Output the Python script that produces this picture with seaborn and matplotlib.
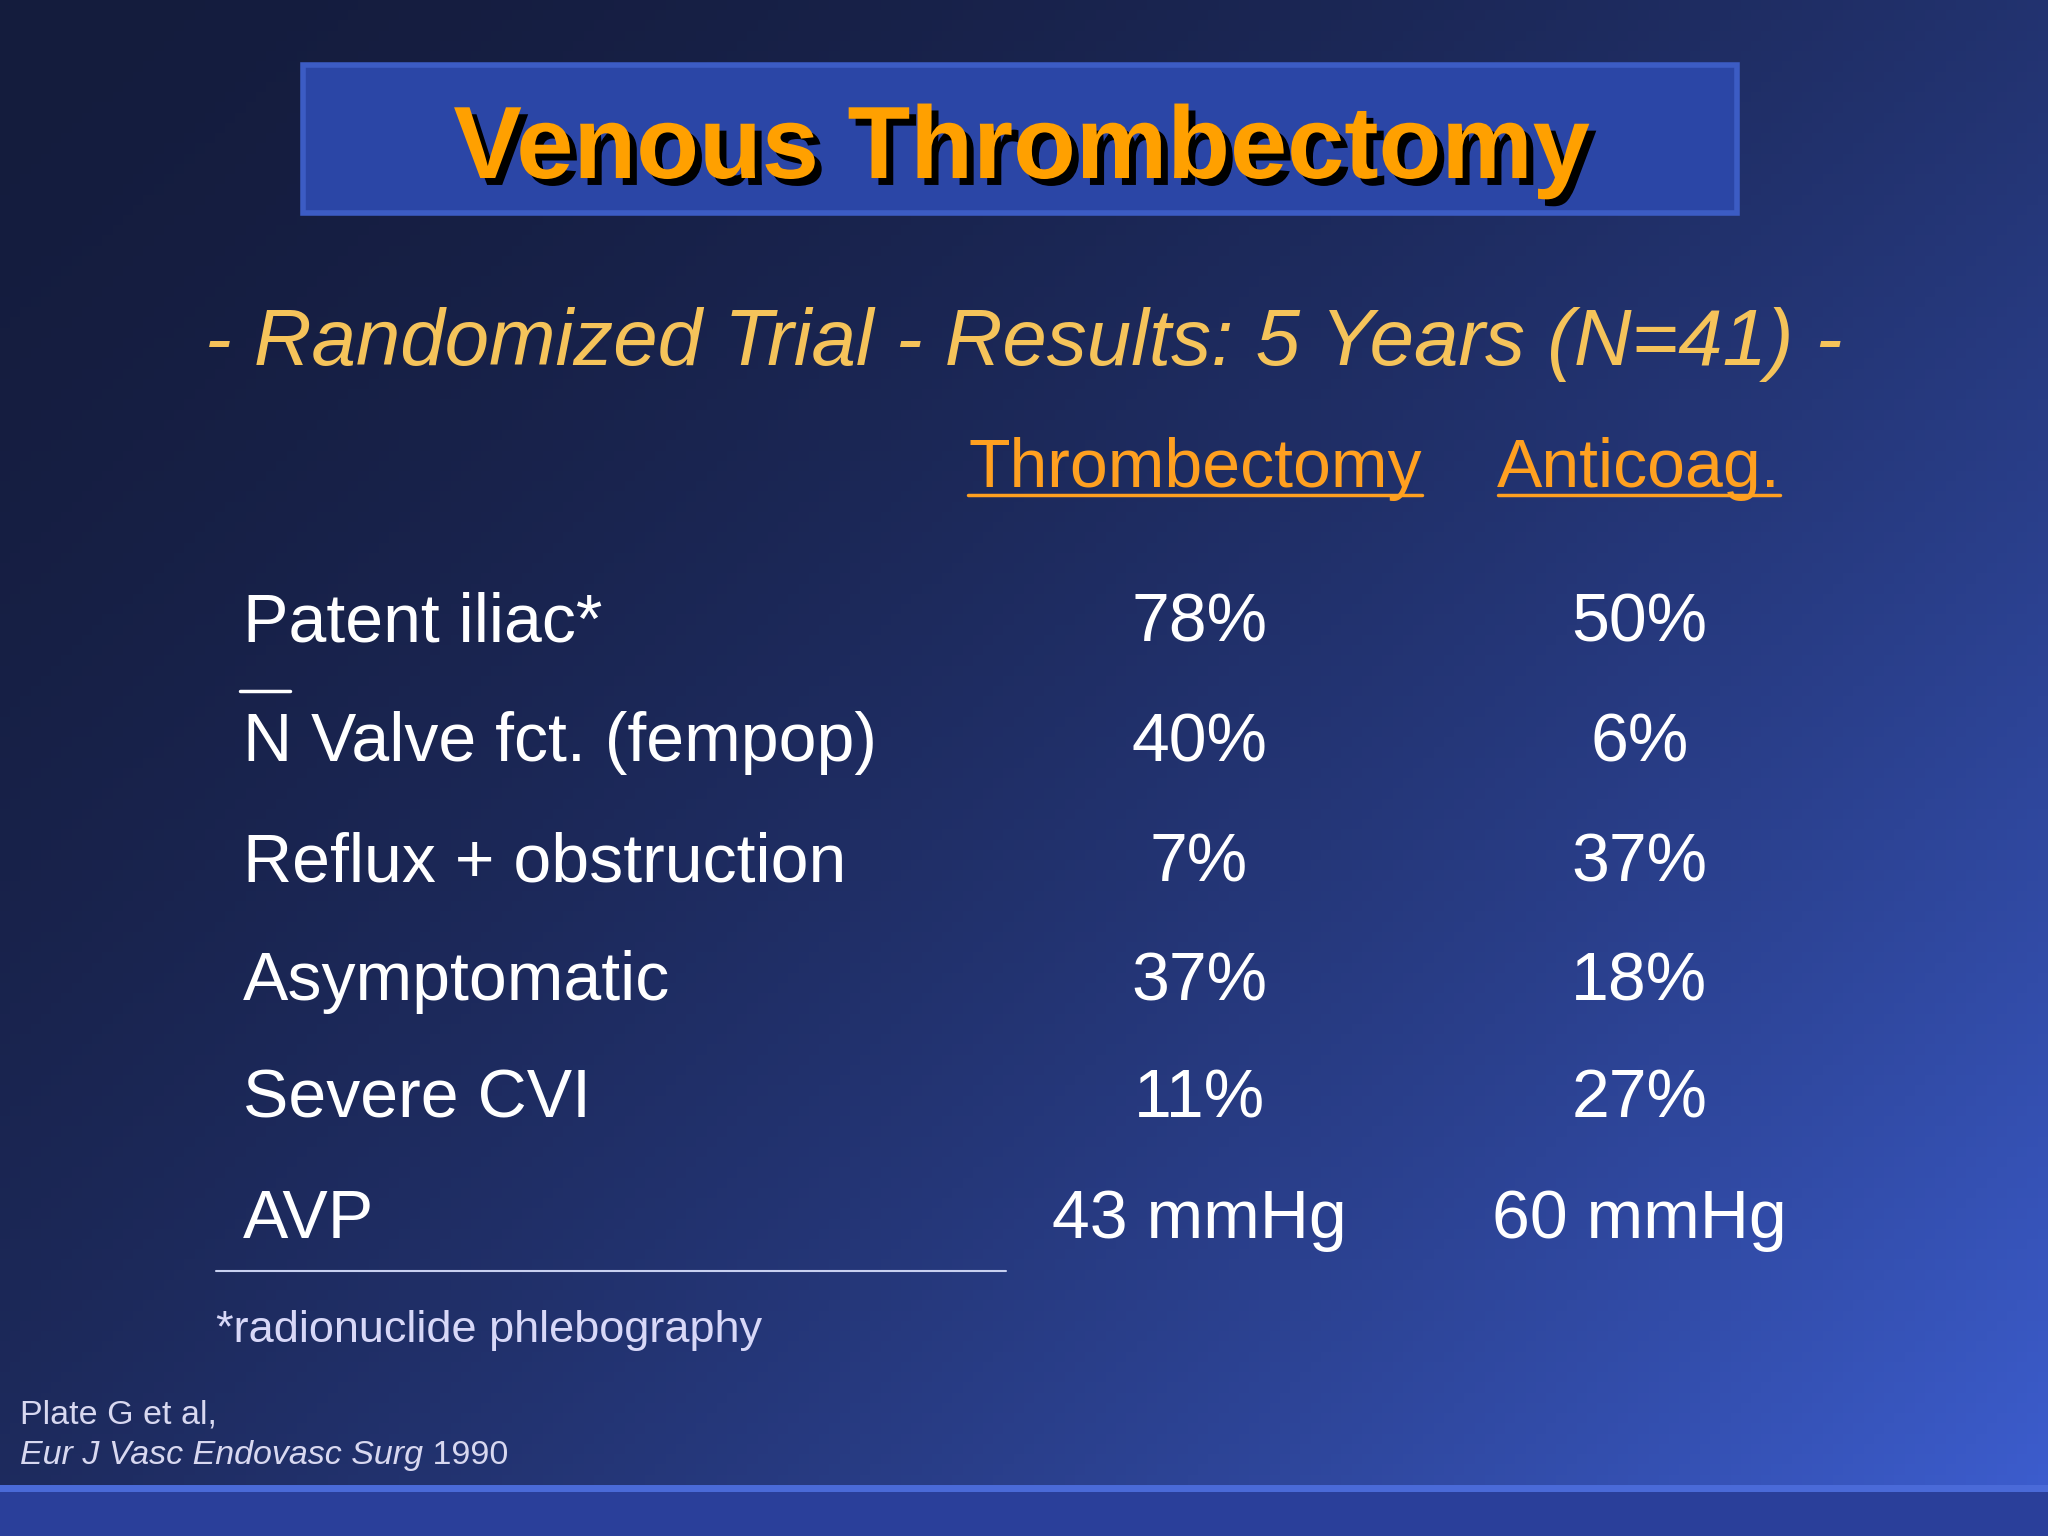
import numpy as np
import matplotlib.pyplot as plt
import matplotlib.patheffects as pe
import seaborn as sns

title = "Venous Thrombectomy"
subtitle = "- Randomized Trial - Results: 5 Years (N=41) -"
col_headers = ["Thrombectomy", "Anticoag."]
row_labels = ["Patent iliac*", "N Valve fct. (fempop)", "Reflux + obstruction",
              "Asymptomatic", "Severe CVI", "AVP"]
thromb_vals = ["78%", "40%", "7%", "37%", "11%", "43 mmHg"]
anticoag_vals = ["50%", "6%", "37%", "18%", "27%", "60 mmHg"]
footnote = "*radionuclide phlebography"
citation1 = "Plate G et al,"
citation2 = "Eur J Vasc Endovasc Surg"
citation3 = " 1990"

sns.set_theme(style="white")
plt.rcParams['font.family'] = ['Liberation Sans', 'DejaVu Sans']

W, H = 1568, 1176
fig = plt.figure(figsize=(20.48, 15.36), dpi=100)
ax = fig.add_axes([0, 0, 1, 1])
ax.set_xlim(0, W)
ax.set_ylim(H, 0)
ax.axis('off')

# background gradient: dark top-left to brighter blue bottom-right
gx, gy = np.meshgrid(np.linspace(0, 1, 200), np.linspace(0, 1, 150))
t = np.clip(0.55 * gx + 0.45 * gy, 0, 1) ** 1.8
c0 = np.array([0.08, 0.11, 0.24])
c1 = np.array([0.24, 0.37, 0.82])
img = c0[None, None, :] * (1 - t[..., None]) + c1[None, None, :] * t[..., None]
ax.imshow(img, extent=[0, W, H, 0], aspect='auto', zorder=0)

# title box
ax.add_patch(plt.Rectangle((232, 50), 1098, 113, facecolor='#2b46a6',
                           edgecolor='#3c5cc4', lw=4, zorder=1))
ax.text(782, 116, title, color='#ffa000', fontsize=74, fontweight='bold',
        ha='center', va='center', zorder=3,
        path_effects=[pe.withSimplePatchShadow(offset=(5, -5), shadow_rgbFace='black', alpha=1)])

ax.text(784, 264, subtitle, color='#f5c35a', fontsize=57.5, style='italic',
        ha='center', va='center', zorder=3)

col_x = [915, 1255]
for x, h in zip(col_x, col_headers):
    ax.text(x, 359, h, color='#ffa020', fontsize=49, ha='center', va='center', zorder=3)
    txt_w = 348 if h == col_headers[0] else 216
    ax.plot([x - txt_w / 2, x + txt_w / 2], [379, 379], color='#ffa020', lw=2.5, zorder=3)

row_y = [477, 569, 661, 752, 842, 934]
for y, lab, a, b in zip(row_y, row_labels, thromb_vals, anticoag_vals):
    ax.text(186, y, lab, color='white', fontsize=49, ha='left', va='center', zorder=3)
    ax.text(918, y, a, color='white', fontsize=49, ha='center', va='center', zorder=3)
    ax.text(1255, y, b, color='white', fontsize=49, ha='center', va='center', zorder=3)

# overline on N
ax.plot([184, 222], [529, 529], color='white', lw=2.5, zorder=3)
ax.plot([165, 770], [973, 973], color='#c8d0f0', lw=1.5, zorder=3)

ax.text(165, 1019, footnote, color='#d8d8f8', fontsize=32.5, ha='left', va='center', zorder=3)
ax.text(15, 1083, citation1, color='#d8d8f0', fontsize=24.5, ha='left', va='center', zorder=3)
c2 = ax.text(15, 1114, citation2, color='#d8d8f0', fontsize=24.5, style='italic',
             ha='left', va='center', zorder=3)
ax.annotate(citation3, xycoords=c2, xy=(1, 0.5), va='center', ha='left',
            color='#d8d8f0', fontsize=24.5, zorder=3)

# bottom stripe
ax.add_patch(plt.Rectangle((0, 1137), W, 5, facecolor='#4a6ad8', lw=0, zorder=1))
ax.add_patch(plt.Rectangle((0, 1142), W, 34, facecolor='#2a3f9a', lw=0, zorder=1))

fig.savefig('out.png', dpi=100)
